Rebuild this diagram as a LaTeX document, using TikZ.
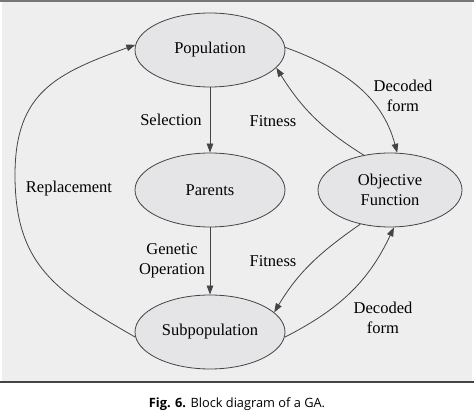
\documentclass[tikz,border=0pt]{standalone}
\usepackage{fontspec}
\setmainfont{Liberation Serif}
\newfontfamily\capfont{Open Sans}
\usetikzlibrary{arrows.meta,shapes.geometric}
\definecolor{panelgray}{HTML}{EEEEEE}
\definecolor{ellfill}{HTML}{E5E5E8}
\definecolor{linegray}{HTML}{444444}
\definecolor{bargray}{HTML}{777777}
\begin{document}
\begin{tikzpicture}[x=1pt,y=1pt,
  ell/.style={ellipse,draw=linegray,fill=ellfill,line width=0.8pt,inner sep=0pt,
    minimum width=150pt,minimum height=74pt,font=\fontsize{16.5}{20}\selectfont},
  lbl/.style={align=center,inner sep=0pt,font=\fontsize{16.5}{20}\selectfont},
  conn/.style={draw=linegray,line width=0.8pt,-{Triangle[length=9pt,width=6.5pt]}},
  plain/.style={draw=linegray,line width=0.8pt}]
\useasboundingbox (0,0) rectangle (474,412);
% panel
\fill[panelgray] (2,30) rectangle (472,410);
\fill[bargray] (0,409.5) rectangle (474,412);
\draw[linegray,line width=1.3pt] (0,30) -- (474,30);
% nodes
\node[ell] (pop) at (210,362) {Population};
\node[ell] (par) at (210,222) {Parents};
\node[ell,minimum width=144pt,align=center] (obj) at (390,222) {Objective\\Function};
\node[ell] (sub) at (210,80) {Subpopulation};
\coordinate (rep) at (15,237);
% connectors
\draw[conn] (pop.south) -- (par.north);
\draw[conn] (par.south) -- (sub.north);
\draw[conn] (pop.2) to[out=-20,in=105] (obj.79);
\draw[conn] (obj.127) to[out=148,in=-58] (pop.-15);
\draw[conn] (obj.229) to[out=215,in=59] (sub.17);
\draw[conn] (sub.-4) to[out=27,in=-115] (obj.-84);
\draw[plain] (sub.184) to[out=150,in=-90,looseness=1.15] (rep);
\draw[conn] (rep) to[out=90,in=200,looseness=1.2] (pop.176);
% labels
\node[lbl] (lsel) at (171,292) {Selection};
\node[lbl] (lfit1) at (273,291) {Fitness};
\node[lbl] (ldec1) at (403,316) {Decoded\\form};
\node[lbl] (lrep) at (69,223) {Replacement};
\node[lbl] (lgen) at (172,151) {Genetic\\Operation};
\node[lbl] (lfit2) at (273,151) {Fitness};
\node[lbl] (ldec2) at (383,94) {Decoded\\form};
% caption
\node[inner sep=0pt,font=\capfont\fontsize{12.8}{15}\selectfont] (cap) at (237,8) {\textbf{Fig. 6.} Block diagram of a GA.};
\end{tikzpicture}
\end{document}
